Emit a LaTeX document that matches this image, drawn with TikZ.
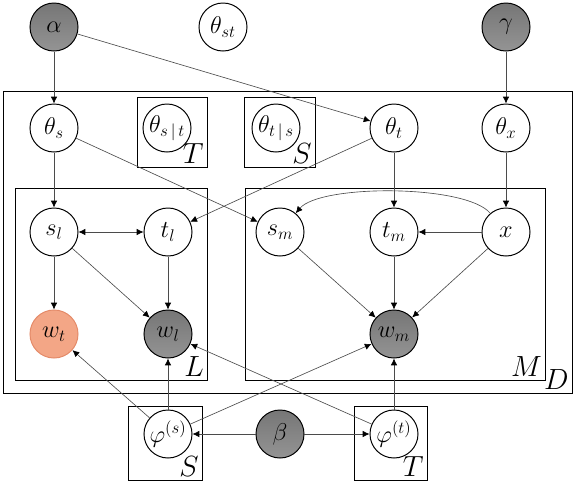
\documentclass[tikz,border=0pt]{standalone}
\usepackage{xcolor}
\usetikzlibrary{arrows.meta}

\definecolor{obsdark}{RGB}{118,118,118}
\definecolor{obslight}{RGB}{148,148,148}
\definecolor{predfill}{RGB}{243,166,134}
\definecolor{predline}{RGB}{228,138,104}
\definecolor{conngray}{RGB}{75,75,75}

\tikzset{
  latent/.style={circle, draw, line width=0.7pt, minimum size=1.2cm, inner sep=0pt, font=\LARGE},
  obs/.style={latent, top color=obsdark, bottom color=obslight},
  pred/.style={latent, draw=predline, fill=predfill},
  plate/.style={draw, line width=0.7pt},
  platelabel/.style={anchor=south east, inner sep=2pt, font=\huge},
  conn/.style={->, >={Latex[length=1.7mm,width=1.6mm,color=black]}, draw=conngray, line width=0.45pt},
}

\begin{document}
\begin{tikzpicture}[x=0.025cm, y=-0.025cm]
  \useasboundingbox (0,0) rectangle (575,482);

  % plates
  \draw[plate] (3,91) rectangle (572,393) node[platelabel] {$D$};
  \draw[plate] (15,188) rectangle (207,380) node[platelabel] {$L$};
  \draw[plate] (245,188) rectangle (545,380) node[platelabel] {$M$};
  \draw[plate] (137,97) rectangle (207,167) node[platelabel] {$T$};
  \draw[plate] (244,97) rectangle (315,167) node[platelabel] {$S$};
  \draw[plate] (128,406) rectangle (202,480) node[platelabel] {$S$};
  \draw[plate] (354,406) rectangle (427,480) node[platelabel] {$T$};

  % hyperparameters
  \node[obs] (alpha) at (54,27) {$\alpha$};
  \node[latent] (thst) at (223,27) {$\theta_{st}$};
  \node[obs] (gamma) at (506,27) {$\gamma$};

  % topic level
  \node[latent] (ths) at (54,128) {$\theta_s$};
  \node[latent] (thsgt) at (167,128) {$\theta_{s\,|\,t}$};
  \node[latent] (thtgs) at (276,128) {$\theta_{t\,|\,s}$};
  \node[latent] (tht) at (394,128) {$\theta_t$};
  \node[latent] (thx) at (506,128) {$\theta_x$};

  % word level
  \node[latent] (sl) at (54,232) {$s_l$};
  \node[latent] (tl) at (168,232) {$t_l$};
  \node[latent] (sm) at (280,232) {$s_m$};
  \node[latent] (tm) at (394,232) {$t_m$};
  \node[latent] (x) at (506,232) {$x$};

  \node[pred] (wt) at (54,334) {$w_t$};
  \node[obs] (wl) at (168,334) {$w_l$};
  \node[obs] (wm) at (394,334) {$w_m$};

  % word distributions
  \node[latent] (phis) at (168,434) {$\varphi^{(s)}$};
  \node[obs] (beta) at (280,434) {$\beta$};
  \node[latent] (phit) at (394,434) {$\varphi^{(t)}$};

  % connectors
  \draw[conn] (alpha) -- (ths);
  \draw[conn] (alpha) -- (tht);
  \draw[conn] (gamma) -- (thx);
  \draw[conn] (ths) -- (sl);
  \draw[conn] (ths) -- (sm);
  \draw[conn] (tht) -- (tl);
  \draw[conn] (tht) -- (tm);
  \draw[conn] (thx) -- (x);

  \draw[conn, <->] (sl) -- (tl);
  \draw[conn] (sl) -- (wt);
  \draw[conn] (sl) -- (wl);
  \draw[conn] (tl) -- (wl);

  \draw[conn] (x) -- (tm);
  \draw[conn] (x) to[out=130, in=50, looseness=0.5] (sm);
  \draw[conn] (sm) -- (wm);
  \draw[conn] (tm) -- (wm);
  \draw[conn] (x) -- (wm);

  \draw[conn] (phis) -- (wt);
  \draw[conn] (phis) -- (wl);
  \draw[conn] (phis) -- (wm);
  \draw[conn] (phit) -- (wl);
  \draw[conn] (phit) -- (wm);
  \draw[conn] (beta) -- (phis);
  \draw[conn] (beta) -- (phit);
\end{tikzpicture}
\end{document}
